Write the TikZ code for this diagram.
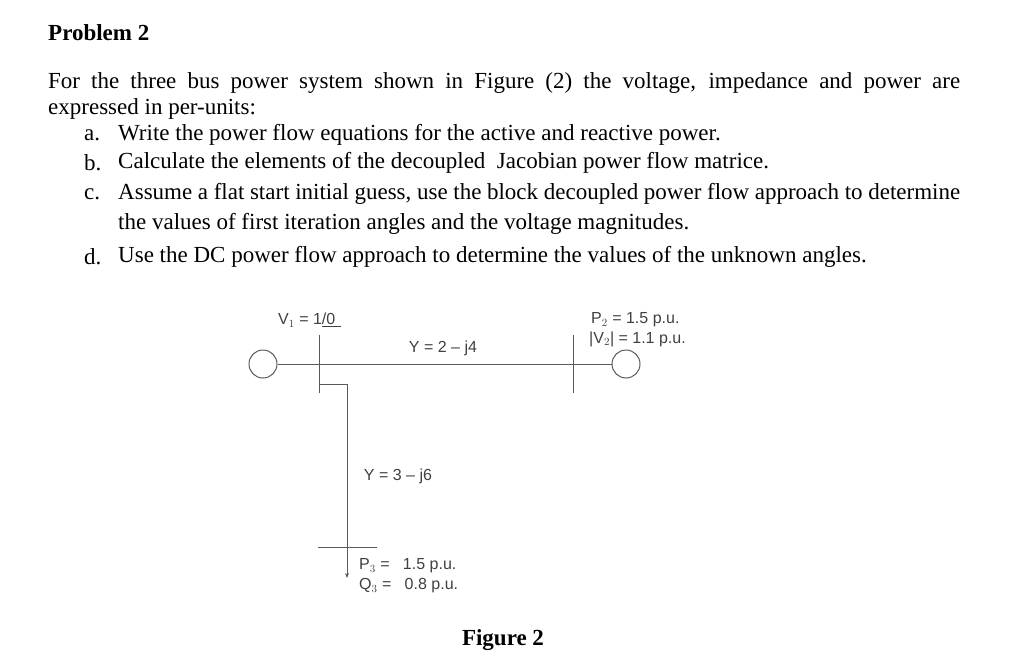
\documentclass[tikz,border=0pt]{standalone}
\usepackage{fontspec}
\setmainfont{Liberation Serif}
\newfontfamily\diag{Liberation Sans}
\usetikzlibrary{arrows.meta}
\begin{document}
\begin{tikzpicture}[x=1pt,y=-1pt,
  txt/.style={anchor=west,inner sep=0pt,font=\fontsize{23}{27}\selectfont},
  just/.style={txt,text width=#1,align=justify},
  lbl/.style={inner sep=0pt,font=\diag\fontsize{16}{18}\selectfont,text=black!75},
  wire/.style={draw=black!65,line width=1pt}]
\useasboundingbox (0,0) rectangle (1024,663);
\node[txt,font=\bfseries\fontsize{23}{27}\selectfont] (t0) at (48,33) {Problem 2};
\node[just=912pt] (t1) at (48,83) {{\parfillskip=0pt For the three bus power system shown in Figure (2) the voltage, impedance and power are\par}};
\node[txt] (t2) at (48,109) {expressed in per-units:};
\node[txt] (la) at (84,135) {a.};
\node[txt] (ta) at (118,135) {Write the power flow equations for the active and reactive power.};
\node[txt] (lb) at (84,163) {b.};
\node[txt] (tb) at (118,163) {Calculate the elements of the decoupled\ \ Jacobian power flow matrice.};
\node[txt] (lc) at (84,194) {c.};
\node[just=842pt] (tc) at (118,194) {{\parfillskip=0pt Assume a flat start initial guess, use the block decoupled power flow approach to determine\par}};
\node[txt] (tc2) at (118,224) {the values of first iteration angles and the voltage magnitudes.};
\node[txt] (ld) at (84,257) {d.};
\node[txt] (td) at (118,257) {Use the DC power flow approach to determine the values of the unknown angles.};
\node[txt,font=\bfseries\fontsize{23}{27}\selectfont,anchor=center] (fig) at (503,640) {Figure 2};
% diagram
\node[circle,wire,minimum size=28pt,inner sep=0pt] (g1) at (263,364) {};
\node[circle,wire,minimum size=28pt,inner sep=0pt] (g2) at (626,364) {};
\coordinate (b1t) at (319,335); \coordinate (b1b) at (319,393);
\coordinate (b2t) at (573,335); \coordinate (b2b) at (573,393);
\coordinate (b3l) at (318,547); \coordinate (b3r) at (377,547);
\draw[wire] (b1t) -- (b1b);
\draw[wire] (b2t) -- (b2b);
\draw[wire] (b3l) -- (b3r);
\draw[wire] (g1.east) -- (g2.west);
\coordinate (k1) at (319,384); \coordinate (k2) at (347,384); \coordinate (k3) at (347,578);
\draw[wire,-{Stealth[length=5pt,width=4pt]}] (k1) -- (k2) -- (k3);
\node[lbl] (y12) at (443,348) {Y = 2 \textendash{} j4};
\node[lbl] (y13) at (398,476) {Y = 3 \textendash{} j6};
\node[lbl,anchor=west] (v1) at (278,320) {V$_1$ = 1\underline{/0\,\,}};
\node[lbl,anchor=west] (p2) at (591,320) {P$_2$ = 1.5 p.u.};
\node[lbl,anchor=west] (v2) at (589,339) {|V$_2$| = 1.1 p.u.};
\node[lbl,anchor=west] (p3) at (359,566) {P$_3$ =\ \ \ 1.5 p.u.};
\node[lbl,anchor=west] (q3) at (359,586) {Q$_3$ =\ \ \ 0.8 p.u.};
\end{tikzpicture}
\end{document}
